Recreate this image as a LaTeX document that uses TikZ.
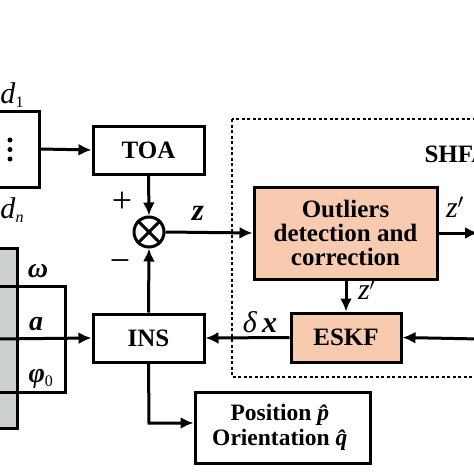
\documentclass[tikz,border=0pt]{standalone}
\usepackage{fontspec}
\setmainfont{Liberation Serif}
\usetikzlibrary{arrows.meta}
\definecolor{peach}{RGB}{248,203,176}
\definecolor{panel}{RGB}{204,208,208}
\begin{document}
\begin{tikzpicture}[x=1pt,y=-1pt,
  line width=3pt,
  arr/.style={-{Latex[length=13pt,width=12pt]}},
  blk/.style={draw, minimum width=111pt, minimum height=48pt, inner sep=0pt,
    font=\fontsize{25}{28}\selectfont\bfseries},
  lbl/.style={inner sep=0pt, font=\fontsize{30}{32}\selectfont},
  mlbl/.style={inner sep=0pt, font=\fontsize{28}{30}\selectfont\bfseries\itshape},
  dot/.style={fill, circle, inner sep=0pt, minimum size=5pt}]
\useasboundingbox (0,0) rectangle (474,474);
\clip (0,0) rectangle (474,474);
% left sensor box
\node[draw, minimum width=60pt, minimum height=76pt, inner sep=0pt] (dbox) at (9,149) {};
\node[dot] (dt1) at (10,140) {};
\node[dot] (dt2) at (10,149.5) {};
\node[dot] (dt3) at (10,159) {};
\node[lbl, anchor=west] (d1) at (-1,95) {\textit{d}\textsubscript{\fontsize{16}{16}\selectfont 1}};
\node[lbl, anchor=west] (dn) at (-1,210) {\textit{d}\textsubscript{\fontsize{16}{16}\selectfont \textit{n}}};
% TOA
\node[blk] (toa) at (148.5,150) {TOA};
% summing junction
\node[draw, circle, minimum size=30pt, inner sep=0pt] (sum) at (149,232) {};
\draw (sum.north west) -- (sum.south east) (sum.north east) -- (sum.south west);
\node[lbl] (plus) at (122,202) {\fontsize{36}{36}\selectfont +};
\node[lbl] (minus) at (120,266) {\fontsize{36}{36}\selectfont −};
\node[mlbl] (zl) at (198,213) {\fontsize{31}{32}\selectfont z};
% INS
\node[blk] (ins) at (148.5,338) {INS};
% IMU panel
\node[draw, fill=panel, minimum width=40pt, minimum height=180pt, inner sep=0pt] (imu) at (-3,338) {};
\coordinate (wl) at (-5,286);
\coordinate (wr) at (65,286);
\coordinate (pl) at (-5,392);
\coordinate (pr) at (65,392);
\coordinate (al) at (-5,339);
\draw (wl) -- (wr) -- (pr) -- (pl);
\draw[arr] (al) -- (ins.west);
\node[mlbl] (om) at (38,271) {ω};
\node[mlbl] (aa) at (36,324) {a};
\node[mlbl] (ph) at (41,379) {φ\textsubscript{\normalfont\fontsize{16}{16}\selectfont 0}};
% dashed SHF box
\draw[line width=2pt, dash pattern=on 3pt off 2.5pt] (232,119) rectangle (500,377);
\node[anchor=west, inner sep=0pt, font=\fontsize{25}{28}\selectfont\bfseries] (shf) at (423,154) {SHFA};
% outliers
\node[draw, fill=peach, minimum width=183pt, minimum height=92pt, inner sep=0pt,
  align=center, font=\fontsize{25}{24}\selectfont\bfseries] (out) at (345.5,233)
  {Outliers\\detection and\\correction};
% ESKF
\node[draw, fill=peach, minimum width=110pt, minimum height=49pt, inner sep=0pt,
  font=\fontsize{25}{28}\selectfont\bfseries] (eskf) at (346,337.5) {ESKF};
% position box
\node[draw, minimum width=175pt, minimum height=71pt, inner sep=0pt, align=center,
  font=\fontsize{23.5}{25}\selectfont\bfseries] (pos) at (282.5,427.5)
  {Position \textit{\^{p}}\\Orientation \textit{\^{q}}};
% connectors
\coordinate (zout) at (478,233);
\coordinate (ein) at (480,339);
\coordinate (corner) at (149,423);
\draw[arr] (dbox.east) -- (toa.west);
\draw[arr] (toa.south) -- (sum.north);
\draw[arr] (ins.north) -- (sum.south);
\draw[arr] (sum.east) -- (out.west);
\draw[arr] (out.east) -- (zout);
\draw[arr] (out.south -| eskf.north) -- (eskf.north);
\draw[arr] (ein) -- (eskf.east);
\draw[arr] (eskf.west) -- (ins.east);
\draw[arr] (ins.south) -- (corner) -- (pos.west |- corner);
\node[lbl] (zp1) at (455,207) {\textit{z}$'$};
\node[lbl] (zp2) at (367,289) {\textit{z}$'$};
\node[lbl] (dx) at (260,322) {\textit{δ}\,\textbf{\textit{x}}};
\end{tikzpicture}
\end{document}
